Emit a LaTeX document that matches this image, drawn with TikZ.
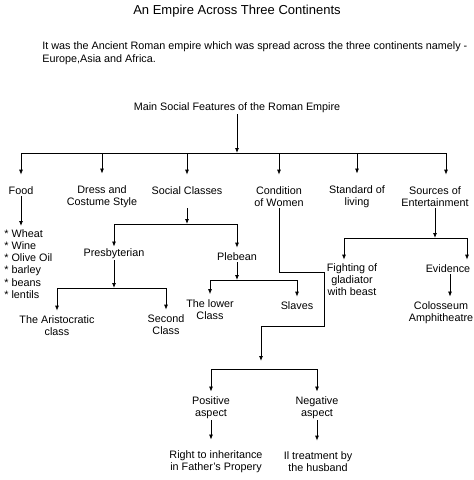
\documentclass[tikz,border=0pt]{standalone}
\usepackage{fontspec}
\setmainfont{Liberation Sans}
\usetikzlibrary{arrows.meta}

\tikzset{
  lbl/.style={align=center, inner sep=1pt, font=\fontsize{10.8}{12}\selectfont},
  arw/.style={-{Latex[length=5pt,width=4pt]}, shorten >=4pt},
}

\begin{document}
\begin{tikzpicture}[x=1pt, y=-1pt, line width=0.8pt]
  \useasboundingbox (0,0) rectangle (474,480);

  % heading
  \node[font=\fontsize{13}{15}\selectfont] (title) at (237,11) {An Empire Across Three Continents};
  \node[lbl, align=left, anchor=north west, font=\fontsize{10.8}{13}\selectfont] (intro) at (41,40)
    {It was the Ancient Roman empire which was spread across the three continents namely -\\Europe,Asia and Africa.};
  \node[lbl] (main) at (237,108) {Main Social Features of the Roman Empire};

  % first level
  \coordinate (hub) at (237,153);
  \coordinate (hubend) at (446,153);
  \node[lbl] (food) at (21,191) {Food};
  \node[lbl] (dress) at (102,197) {Dress and\\Costume Style};
  \node[lbl] (social) at (187,191) {Social Classes};
  \node[lbl] (women) at (279,197) {Condition\\of Women};
  \node[lbl] (living) at (357,197) {Standard of\\living};
  \node[lbl] (sources) at (435,197) {Sources of\\Entertainment};

  \draw[arw, shorten >=0pt] (main) -- (hub);
  \draw (food |- hub) -- (hubend);
  \foreach \n in {food,dress,social,women,living}
    \draw[arw, shorten >=11pt] (\n |- hub) -- (\n.north);
  \draw[arw, shorten >=11pt] (hubend) -- (hubend |- sources.north);

  % food
  \node[lbl, align=left, anchor=north west, font=\fontsize{10.8}{12.2}\selectfont] (crops) at (3,228)
    {* Wheat\\* Wine\\* Olive Oil\\* barley\\* beans\\* lentils};
  \draw[arw, shorten >=2pt] (food) -- (food |- crops.north);

  % social classes
  \coordinate (split) at (187,224);
  \node[lbl] (presby) at (114,254) {Presbyterian};
  \node[lbl] (plebean) at (237,257) {Plebean};
  \draw[arw, shorten <=12pt, shorten >=0pt] (social) -- (social |- split);
  \draw (presby |- split) -- (plebean |- split);
  \draw[arw, shorten >=1pt] (presby |- split) -- (presby.north);
  \draw[arw] (plebean |- split) -- (plebean.north);

  \coordinate (presbysplit) at (114,288);
  \node[lbl] (aristo) at (57,326) {The Aristocratic\\class};
  \node[lbl] (second) at (166,325) {Second\\Class};
  \draw[arw, shorten >=0pt] (presby) -- (presbysplit);
  \draw (aristo |- presbysplit) -- (second |- presbysplit);
  \draw[arw] (aristo |- presbysplit) -- (aristo.north);
  \draw[arw] (second |- presbysplit) -- (second.north);

  \coordinate (plebsplit) at (237,280);
  \node[lbl] (lower) at (210,309.5) {The lower\\Class};
  \node[lbl] (slaves) at (297,306) {Slaves};
  \draw[arw, shorten >=0pt] (plebean) -- (plebsplit);
  \draw (lower |- plebsplit) -- (slaves |- plebsplit);
  \draw[arw] (lower |- plebsplit) -- (lower.north);
  \draw[arw] (slaves |- plebsplit) -- (slaves.north);

  % condition of women
  \coordinate (bendA) at (324,272);
  \coordinate (bendB) at (261,326);
  \coordinate (aspects) at (261,361);
  \draw[arw, shorten >=0pt] (women) |- (bendA) |- (bendB) -- (aspects);

  \coordinate (aspectbar) at (263,369);
  \node[lbl] (positive) at (211,408) {Positive\\aspect};
  \node[lbl] (negative) at (317,408) {Negative\\aspect};
  \draw (positive |- aspectbar) -- (negative |- aspectbar);
  \draw[arw] (positive |- aspectbar) -- (positive.north);
  \draw[arw] (negative |- aspectbar) -- (negative.north);

  \node[lbl] (inherit) at (216,462) {Right to inheritance\\in Father's Propery};
  \node[lbl] (husband) at (318,462) {Il treatment by\\the husband};
  \draw[arw, shorten >=10pt] (positive) -- (positive |- inherit.north);
  \draw[arw, shorten >=10pt] (negative) -- (negative |- husband.north);

  % entertainment
  \coordinate (sourcesplit) at (435,238);
  \coordinate (fightdrop) at (344,238);
  \coordinate (evdrop) at (467,238);
  \node[lbl] (fighting) at (352,280) {Fighting of\\gladiator\\with beast};
  \node[lbl] (evidence) at (448,269) {Evidence};
  \node[lbl] (colosseum) at (441,313) {Colosseum\\Amphitheatre};
  \draw[arw, shorten >=0pt] (sources) -- (sourcesplit);
  \draw (fightdrop) -- (evdrop);
  \draw[arw, shorten >=3pt] (fightdrop) -- (fightdrop |- fighting.north);
  \draw[arw] (evdrop) -- (evdrop |- evidence.north);
  \draw[arw] (evidence.south -| 450,0) -- (450,0 |- colosseum.north);
\end{tikzpicture}
\end{document}
